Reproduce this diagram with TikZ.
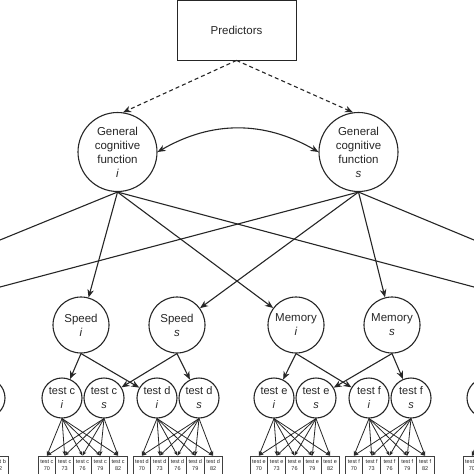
\documentclass[tikz,border=0pt]{standalone}
\usepackage{fontspec}
\setmainfont{Liberation Sans}
\usetikzlibrary{arrows.meta}
\begin{document}
\begin{tikzpicture}[x=1pt,y=-1pt,
  ln/.style={draw=black!85, line width=1.1pt},
  lnthin/.style={draw=black!85, line width=0.8pt},
  big/.style={-{Stealth[length=8pt,width=6.5pt,inset=2.5pt]}},
  bothbig/.style={{Stealth[length=8pt,width=6.5pt,inset=2.5pt]}-{Stealth[length=8pt,width=6.5pt,inset=2.5pt]}},
  small/.style={-{Stealth[length=4.5pt,width=3.5pt,inset=1.2pt]}},
  lat/.style={circle, draw=black!85, line width=1.1pt, inner sep=0pt, align=center, text=black!85},
  gcf/.style={lat, minimum size=79pt, font=\fontsize{11.5}{14}\selectfont},
  dom/.style={lat, minimum size=56pt, font=\fontsize{11.5}{14}\selectfont},
  tst/.style={lat, minimum size=40pt, font=\fontsize{11}{14}\selectfont},
  obs/.style={rectangle, draw=black!75, line width=0.7pt, minimum width=17.8pt, minimum height=18pt, inner sep=0pt, align=center, text=black!85, font=\fontsize{5.5}{7.5}\selectfont},
  predbox/.style={rectangle, draw=black!85, line width=0.9pt, minimum width=119pt, minimum height=60pt, text=black!85, font=\fontsize{11.5}{14}\selectfont},
]
\useasboundingbox (0,0) rectangle (474,474);
\clip (0,0) rectangle (474,474);

\node[predbox] (pred) at (236.5,30) {Predictors};

\node[gcf] (gi) at (117.5,152) {General\\cognitive\\function\\\textit{i}};
\node[gcf] (gs) at (358.5,152) {General\\cognitive\\function\\\textit{s}};

\node[dom] (spi) at (81,325) {Speed\\\textit{i}};
\node[dom] (sps) at (177,325) {Speed\\\textit{s}};
\node[dom] (mei) at (296,325) {Memory\\\textit{i}};
\node[dom] (mes) at (392,325) {Memory\\\textit{s}};

\coordinate (lA) at (0,240);
\coordinate (lB) at (0,287);
\coordinate (rA) at (474,240);
\coordinate (rB) at (474,287);

% groups fully inside the picture
\foreach \g/\x in {c/62,d/157,e/274,f/369}{
  \node[tst] (\g-i) at (\x,398) {test \g\\\textit{i}};
  \node[tst] (\g-s) at (\x+42,398) {test \g\\\textit{s}};
  \foreach \k/\n in {0/70,1/73,2/76,3/79,4/82}{
    \node[obs] (\g-\n) at ({\x-24+17.8*(\k+0.5)},465) {test \g\\\n};
    \draw[lnthin, small] (\g-i.south) -- (\g-\n.north);
    \draw[lnthin, small] (\g-s.south) -- (\g-\n.north);
  }
}

% groups cut by the picture's edges
\node[tst] (b-i) at (-57,398) {};
\node[tst] (b-s) at (-15,398) {};
\node[obs] (b-82) at ({-57-24+17.8*4.5},465) {test b\\82};
\draw[lnthin, small] (b-i.south) -- (b-82.north);
\draw[lnthin, small] (b-s.south) -- (b-82.north);

\node[tst] (g-i) at (487,398) {};
\node[tst] (g-s) at (529,398) {};
\node[obs] (g-70) at ({487-24+17.8*0.5},465) {test g\\70};
\draw[lnthin, small] (g-i.south) -- (g-70.north);
\draw[lnthin, small] (g-s.south) -- (g-70.north);

\draw[ln, dashed, dash pattern=on 4pt off 3pt, big] (pred.south) -- (gi.82);
\draw[ln, dashed, dash pattern=on 4pt off 3pt, big] (pred.south) -- (gs.98);
\draw[ln, bothbig] (gi.east) to[bend left=30] (gs.west);

\draw[ln] (gi.south) -- (lA);
\draw[ln, big] (gi.south) -- (spi);
\draw[ln, big] (gi.south) -- (mei);
\draw[ln] (gi.south) -- (rB);
\draw[ln] (gs.south) -- (lB);
\draw[ln, big] (gs.south) -- (sps);
\draw[ln, big] (gs.south) -- (mes);
\draw[ln] (gs.south) -- (rA);

\draw[ln, big] (spi.south) -- (c-i);
\draw[ln, big] (spi.south) -- (d-i);
\draw[ln, big] (sps.south) -- (c-s);
\draw[ln, big] (sps.south) -- (d-s);
\draw[ln, big] (mei.south) -- (e-i);
\draw[ln, big] (mei.south) -- (f-i);
\draw[ln, big] (mes.south) -- (e-s);
\draw[ln, big] (mes.south) -- (f-s);
\end{tikzpicture}
\end{document}
